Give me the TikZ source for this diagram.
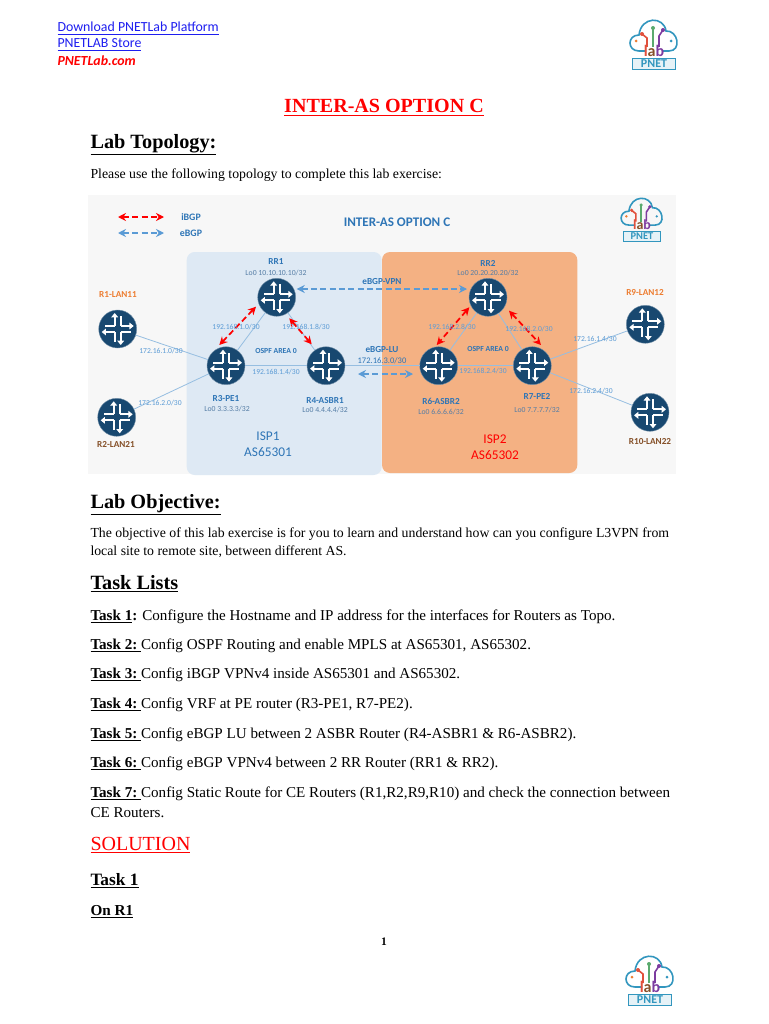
\documentclass[tikz,border=0pt]{standalone}
\usepackage{fontspec}
\setmainfont{Liberation Serif}
\newfontfamily\labelfont{Carlito}
\usetikzlibrary{arrows.meta}

\definecolor{routerblue}{RGB}{24,72,112}
\definecolor{panelblue}{RGB}{222,233,244}
\definecolor{panelorange}{RGB}{244,177,131}
\definecolor{linkblue}{RGB}{150,190,225}
\definecolor{ebgpblue}{RGB}{91,155,213}
\definecolor{textblue}{RGB}{46,117,182}
\definecolor{greyblue}{RGB}{85,125,165}
\definecolor{linkpage}{RGB}{30,30,240}
\definecolor{lanorange}{RGB}{237,125,49}
\definecolor{lanbrown}{RGB}{133,80,40}
\definecolor{logoteal}{RGB}{50,150,190}
\definecolor{logored}{RGB}{225,80,60}
\definecolor{logogreen}{RGB}{90,170,110}
\definecolor{logopurple}{RGB}{125,60,160}

\tikzset{every picture/.style={line width=0.75pt},
  body/.style={anchor=base west,inner sep=0pt,font=\fontsize{10.35}{14}\selectfont},
  tasktext/.style={anchor=base west,inner sep=0pt,font=\fontsize{11.32}{14}\selectfont},
  bodyhead/.style={anchor=base west,inner sep=0pt,font=\fontsize{15.2}{19}\selectfont\bfseries},
  header/.style={anchor=base west,inner sep=0pt,font=\labelfont\fontsize{10.4}{12}\selectfont},
  tiny/.style={inner sep=0pt,text=greyblue,font=\labelfont\fontsize{5.8}{7}\selectfont},
  addr/.style={inner sep=0pt,text=ebgpblue,font=\labelfont\fontsize{5.7}{7}\selectfont},
  rname/.style={inner sep=0pt,text=textblue,font=\labelfont\bfseries\fontsize{6.9}{8}\selectfont},
  isp/.style={inner sep=0pt,font=\labelfont\fontsize{10}{12}\selectfont},
  areaname/.style={inner sep=0pt,text=textblue,font=\labelfont\bfseries\fontsize{5.8}{7}\selectfont},
  link/.style={linkblue,line width=0.6pt},
  ibgp/.style={red,line width=1.3pt,dash pattern=on 4.5pt off 2.5pt,{Stealth[length=6pt,width=6pt]}-{Stealth[length=6pt,width=6pt]}},
  ebgp/.style={ebgpblue,line width=1.3pt,dash pattern=on 4.5pt off 2.5pt,{Stealth[length=6pt,width=6pt]}-{Stealth[length=6pt,width=6pt]}},
  glyph/.style={white,line width=1.5pt,-{Triangle[length=3.2pt,width=5pt]}},
  glyphstem/.style={white,line width=1.5pt},
  router/.style={circle,fill=routerblue,draw=routerblue!60,line width=0.3pt,minimum size=28.5pt,inner sep=0pt,
    path picture={
      \begin{scope}[shift={(path picture bounding box.center)}]
        \draw[glyph] (-3,3) -- (-3,16);
        \draw[glyphstem] (-3,3) -- (-13,3);
        \draw[glyph] (3,3) -- (16,3);
        \draw[glyphstem] (3,3) -- (3,13);
        \draw[glyph] (-3,-3) -- (-16,-3);
        \draw[glyphstem] (-3,-3) -- (-3,-13);
        \draw[glyph] (3,-3) -- (3,-16);
        \draw[glyphstem] (3,-3) -- (13,-3);
      \end{scope}}},
  pics/pnetlogo/.style={code={
    \begin{scope}[scale=#1,transform shape]
    \draw[logoteal,line width=1.2pt] (-8,-7) -- (-15,-7) .. controls (-27,-7) and (-27,9) .. (-15,9) .. controls (-13,28) and (10,28) .. (12,13) .. controls (24,14) and (28,-7) .. (15,-7) -- (9,-7);
    \draw[logored,line width=1.2pt] (-7,-3) -- (-7,6) -- (-12,10);
    \draw[logogreen,line width=1.2pt] (-1,-3) -- (-1,16);
    \draw[logopurple,line width=1.2pt] (5,-3) -- (5,8) -- (9,14);
    \fill[logored] (-12,10) circle (2);
    \fill[logogreen] (-1,16) circle (2);
    \fill[logopurple] (9,14) circle (2);
    \fill[lanorange] (-18,3) circle (1.5);
    \fill[logoteal] (17,3) circle (1.5);
    \node[inner sep=0pt,font=\labelfont\bfseries\fontsize{12}{12}\selectfont] (-pletter) at (0,-7) {\textcolor{logored}{l}\textcolor{lanbrown}{a}\textcolor{logopurple}{b}};
    \node[draw=logoteal,fill=logoteal!12,line width=1pt,inner sep=0pt,text=logoteal,minimum width=32pt,minimum height=8.5pt,font=\labelfont\bfseries\fontsize{9}{9}\selectfont] (-ptext) at (0,-20) {PNET};
    \end{scope}
  }}
}

\begin{document}
\begin{tikzpicture}[x=0.75pt,y=0.75pt,yscale=-1,xscale=1]
\useasboundingbox (0,0) rectangle (768,1024);
\fill[white] (0,0) rectangle (768,1024);

%Page header
\node[header,text=linkpage] (download) at (57,32) {\underline{Download PNETLab Platform}};
\node[header,text=linkpage] (store) at (57,48) {\underline{PNETLAB Store}};
\node[header,text=red,font=\labelfont\bfseries\itshape\fontsize{10.4}{12}\selectfont] (site) at (57,65) {PNETLab.com};
\pic (toplogo) at (654,44) {pnetlogo=1};

\node[anchor=base,inner sep=0pt,text=red,font=\fontsize{15.05}{17}\selectfont\bfseries] (title) at (384,113) {\underline{INTER-AS OPTION C}};
\node[bodyhead] (topohead) at (90,148) {\underline{Lab Topology:}};
\node[body] (please) at (90,178) {Please use the following topology to complete this lab exercise:};

%Diagram
\fill[black!3] (88,195) rectangle (676,474);
\fill[panelblue] (186.7,252) [rounded corners=6] rectangle (381.7,475);
\fill[panelorange] (382,252) [rounded corners=6] rectangle (577.3,473);

%Legend
\coordinate (legi1) at (118,217); \coordinate (legi2) at (164,217);
\coordinate (lege1) at (118,233); \coordinate (lege2) at (164,233);
\draw[ibgp] (legi1) -- (legi2);
\draw[ebgp] (lege1) -- (lege2);
\node[rname,font=\labelfont\bfseries\fontsize{7.4}{9}\selectfont] (legitext) at (191,217) {iBGP};
\node[rname,font=\labelfont\bfseries\fontsize{7.4}{9}\selectfont] (legetext) at (191,233) {eBGP};
\node[inner sep=0pt,text=textblue,font=\labelfont\bfseries\fontsize{9.85}{12}\selectfont] (difftitle) at (397,222) {INTER-AS OPTION C};
\pic (difflogo) at (642,219) {pnetlogo=0.87};

%Routers
\node[router] (rr1) at (276.7,297.3) {};
\node[router] (r3) at (226,365.7) {};
\node[router] (r4) at (326,365.7) {};
\node[router] (r1) at (117.7,329) {};
\node[router] (r2) at (116.7,417.3) {};
\node[router] (rr2) at (488,297.3) {};
\node[router] (r6) at (438.7,365.7) {};
\node[router] (r7) at (532.3,365.7) {};
\node[router] (r9) at (645.3,324.3) {};
\node[router] (r10) at (650,412.3) {};

%Links
\draw[link] (rr1) -- (r3);
\draw[link] (rr1) -- (r4);
\draw[link] (r3) -- (r4);
\draw[link] (r1) -- (r3);
\draw[link] (r2) -- (r3);
\draw[link] (rr2) -- (r6);
\draw[link] (rr2) -- (r7);
\draw[link] (r6) -- (r7);
\draw[link] (r7) -- (r9);
\draw[link] (r7) -- (r10);
\draw[link] (r4) -- (r6);

%BGP sessions
\draw[ibgp] ([shift={(-20.7,9.4)}]rr1.center) -- ([shift={(-6.7,-20.7)}]r3.center);
\draw[ibgp] ([shift={(12.6,21)}]rr1.center) -- ([shift={(-14.3,-21.4)}]r4.center);
\draw[ibgp] ([shift={(-18.7,10)}]rr2.center) -- ([shift={(-2,-20.7)}]r6.center);
\draw[ibgp] ([shift={(21,13.4)}]rr2.center) -- ([shift={(8.7,-20.7)}]r7.center);
\draw[ebgp] ([shift={(20,-8.3)}]rr1.center) -- ([shift={(-21,-8.3)}]rr2.center);
\coordinate (lu1) at (358,374); \coordinate (lu2) at (413,374);
\draw[ebgp] (lu1) -- (lu2);

%Labels
\node[rname] (rr1name) at (276,262) {RR1};
\node[tiny] (rr1lo) at (276,273) {Lo0 10.10.10.10/32};
\node[rname] (rr2name) at (488,263) {RR2};
\node[tiny] (rr2lo) at (488,273) {Lo0 20.20.20.20/32};
\node[rname] (r3name) at (226,399) {R3-PE1};
\node[tiny] (r3lo) at (227,409) {Lo0 3.3.3.3/32};
\node[rname] (r4name) at (325,401) {R4-ASBR1};
\node[tiny] (r4lo) at (325,410) {Lo0 4.4.4.4/32};
\node[rname] (r6name) at (441,401) {R6-ASBR2};
\node[tiny] (r6lo) at (441,412) {Lo0 6.6.6.6/32};
\node[rname] (r7name) at (537,396) {R7-PE2};
\node[tiny] (r7lo) at (537,410) {Lo0 7.7.7.7/32};
\node[rname,text=lanorange] (r1name) at (118,295) {R1-LAN11};
\node[rname,text=lanbrown] (r2name) at (116,444) {R2-LAN21};
\node[rname,text=lanorange] (r9name) at (645,292) {R9-LAN12};
\node[rname,text=lanbrown] (r10name) at (650,442) {R10-LAN22};
\node[addr] (net1) at (161,351) {172.16.1.0/30};
\node[addr] (net2) at (160,403) {172.16.2.0/30};
\node[addr] (net3) at (236,327) {192.168.1.0/30};
\node[addr] (net4) at (306,327) {192.168.1.8/30};
\node[addr] (net5) at (276,372) {192.168.1.4/30};
\node[areaname] (area1) at (276,351) {OSPF AREA 0};
\node[addr] (net6) at (452,327) {192.168.2.8/30};
\node[addr] (net7) at (529,329) {192.168.2.0/30};
\node[addr] (net8) at (483,371) {192.168.2.4/30};
\node[areaname] (area2) at (488,349) {OSPF AREA 0};
\node[addr] (net9) at (595,339) {172.16.1.4/30};
\node[addr] (net10) at (591,391) {172.16.2.4/30};
\node[rname] (vpnname) at (382,282) {eBGP-VPN};
\node[rname] (luname) at (382,350) {eBGP-LU};
\node[addr,text=textblue,font=\labelfont\fontsize{6.4}{7}\selectfont] (lunet) at (382,361) {172.16.3.0/30};
\node[isp,text=textblue] (isp1) at (268,436) {ISP1};
\node[isp,text=textblue] (as1) at (268,452) {AS65301};
\node[isp,text=red] (isp2) at (495,439) {ISP2};
\node[isp,text=red] (as2) at (495,455) {AS65302};

%Body text
\node[bodyhead] (objhead) at (90,508) {\underline{Lab Objective:}};
\node[body] (obj1) at (90,537) {The objective of this lab exercise is for you to learn and understand how can you configure L3VPN from};
\node[body] (obj2) at (90,555) {local site to remote site, between different AS.};
\node[bodyhead] (taskhead) at (90,589) {\underline{Task Lists}};
\node[tasktext] (t1) at (90,620) {\textbf{\underline{Task 1}:} Configure the Hostname and IP address for the interfaces for Routers as Topo.};
\node[tasktext] (t2) at (90,649) {\textbf{\underline{Task 2:\ }}Config OSPF Routing and enable MPLS at AS65301, AS65302.};
\node[tasktext] (t3) at (90,678) {\textbf{\underline{Task 3:\ }}Config iBGP VPNv4 inside AS65301 and AS65302.};
\node[tasktext] (t4) at (90,708) {\textbf{\underline{Task 4:\ }}Config VRF at PE router (R3-PE1, R7-PE2).};
\node[tasktext] (t5) at (90,738) {\textbf{\underline{Task 5:\ }}Config eBGP LU between 2 ASBR Router (R4-ASBR1 \& R6-ASBR2).};
\node[tasktext] (t6) at (90,767) {\textbf{\underline{Task 6:\ }}Config eBGP VPNv4 between 2 RR Router (RR1 \& RR2).};
\node[tasktext] (t7) at (90,797) {\textbf{\underline{Task 7:\ }}Config Static Route for CE Routers (R1,R2,R9,R10) and check the connection between};
\node[tasktext] (t7b) at (90,817) {CE Routers.};
\node[anchor=base west,inner sep=0pt,text=red,font=\fontsize{15}{19}\selectfont] (solution) at (90,850) {\underline{SOLUTION}};
\node[anchor=base west,inner sep=0pt,font=\fontsize{13}{16}\selectfont\bfseries] (task1) at (90,885) {\underline{Task 1}};
\node[anchor=base west,inner sep=0pt,font=\fontsize{11.4}{14}\selectfont\bfseries] (onr1) at (90,915) {\underline{On R1}};
\node[anchor=base,inner sep=0pt,font=\fontsize{8.6}{10}\selectfont\bfseries] (pagenum) at (384,945) {1};
\pic (footlogo) at (650,980) {pnetlogo=1};
\end{tikzpicture}
\end{document}
